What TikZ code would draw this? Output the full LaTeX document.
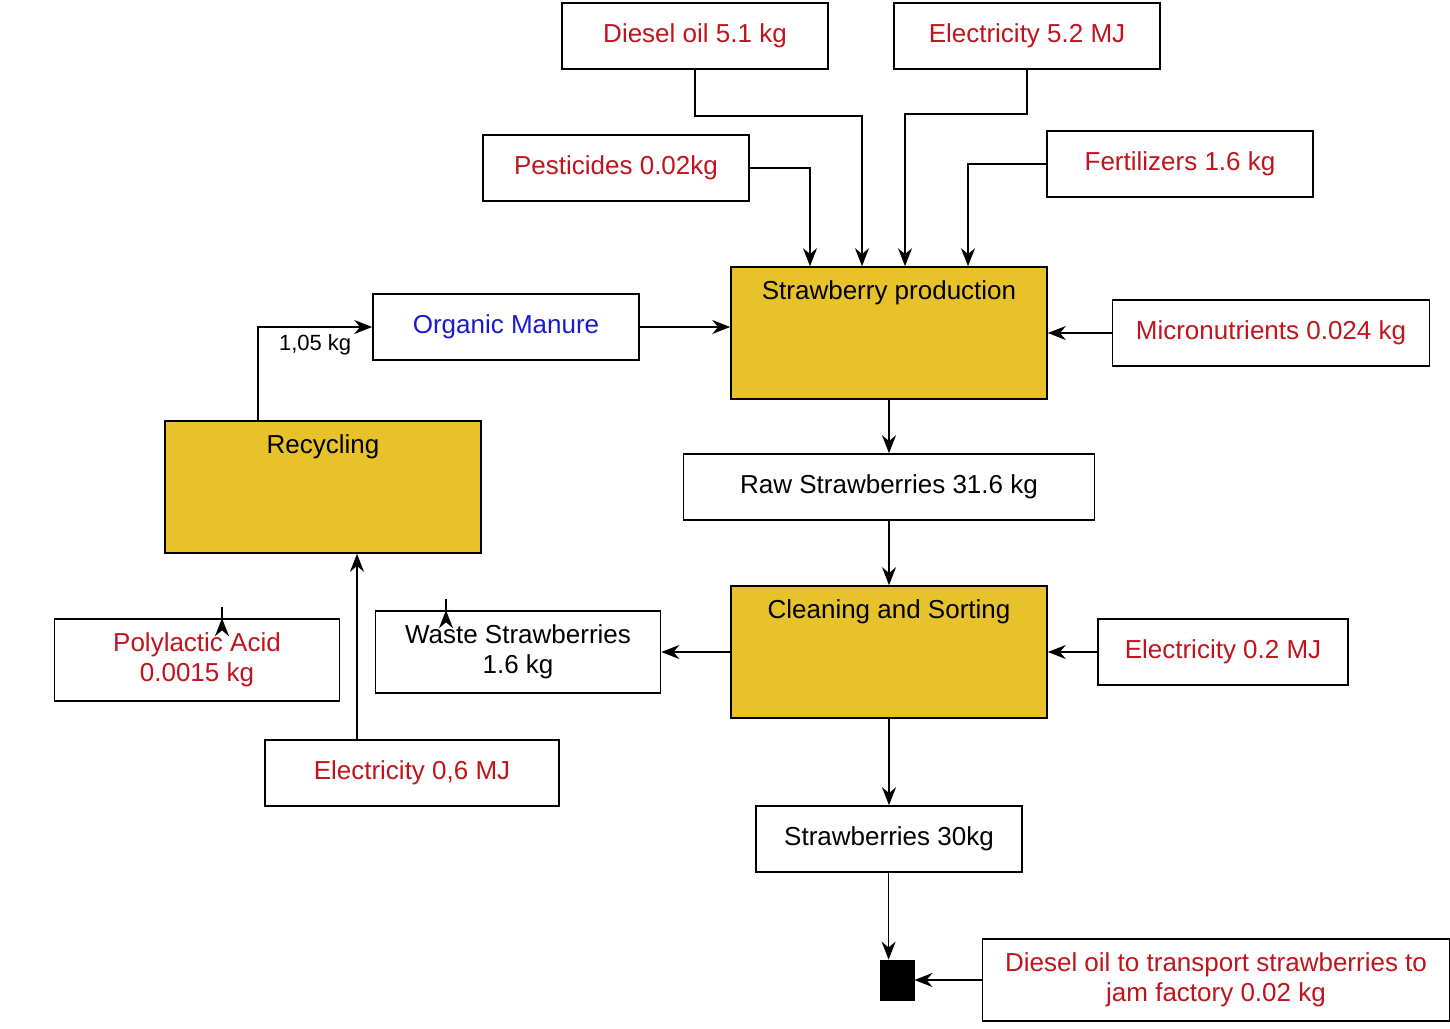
\documentclass[tikz,border=0pt]{standalone}
\usepackage{fontspec}
\setmainfont{Liberation Sans}
\usetikzlibrary{arrows.meta, positioning, calc}
\definecolor{inred}{HTML}{C0141C}
\definecolor{inblue}{HTML}{1A1ACC}
\definecolor{procyel}{HTML}{E8C22A}

\begin{document}
\begin{tikzpicture}[x=0.5pt,y=-0.5pt,
    box/.style={draw,thick,minimum width=#1*0.5pt,minimum height=33pt,inner sep=2pt,font=\fontsize{13}{15}\selectfont,align=center},
    box/.default=266,
    input/.style={box=#1,text=inred},
    input/.default=266,
    proc/.style={draw,thick,fill=procyel,minimum width=158pt,minimum height=66pt},
    ptext/.style={font=\fontsize{13}{15}\selectfont,anchor=north,inner sep=0pt,yshift=-7pt},
    flow/.style={thick,-{Stealth[length=9pt,width=7pt]}}]
  \useasboundingbox (0,0) rectangle (1450,1028);

  % Inputs to strawberry production
  \node[input] (diesel) at (695,36) {Diesel oil 5.1 kg};
  \node[input] (elec) at (1027,36) {Electricity 5.2 MJ};
  \node[input] (pest) at (616,168) {Pesticides 0.02kg};
  \node[input] (fert) at (1180,164) {Fertilizers 1.6 kg};
  \node[input=317] (micro) at (1271,333) {Micronutrients 0.024 kg};

  % Processes
  \node[proc] (prod) at (889,333) {};
  \node[ptext] at (prod.north) {Strawberry production};
  \node[proc] (recyc) at (323,487) {};
  \node[ptext] at (recyc.north) {Recycling};
  \node[proc] (clean) at (889,652) {};
  \node[ptext] at (clean.north) {Cleaning and Sorting};

  % Flows
  \node[box,text=inblue] (manure) at (506,327) {Organic Manure};
  \node[box=411] (raw) at (889,487) {Raw Strawberries 31.6 kg};
  \node[input=250] (elecc) at (1223,652) {Electricity 0.2 MJ};
  \node[box=285,minimum height=41pt] (waste) at (518,652) {Waste Strawberries\\1.6 kg};
  \node[input=285,minimum height=41pt] (pla) at (197,660) {Polylactic Acid\\0.0015 kg};
  \node[input=294] (elecr) at (412,773) {Electricity 0,6 MJ};
  \node[box] (berries) at (889,839) {Strawberries 30kg};
  \node[draw,fill=black,minimum width=17pt,minimum height=20pt,inner sep=0pt] (jam) at (897,980) {};
  \node[input=467,minimum height=41pt] (trans) at (1216,980) {Diesel oil to transport strawberries to\\jam factory 0.02 kg};

  % Arrows
  \draw[flow] (diesel.south) -- ++(0,46) -| ($(prod.north)+(-27,0)$);
  \draw[flow] (elec.south) -- ++(0,44) -| ($(prod.north)+(16,0)$);
  \draw[flow] (pest.east) -| ($(prod.north)+(-79,0)$);
  \draw[flow] (fert.west) -| ($(prod.north)+(79,0)$);
  \draw[flow] (micro.west) -- (prod.east);
  \draw[flow] (manure.east) -- (manure.east -| prod.west);
  \draw[flow] ($(recyc.north)+(-65,0)$) |- node[pos=0.75,below,font=\fontsize{11}{13}\selectfont] {1,05 kg} (manure.west);
  \draw[flow] (prod.south) -- (raw.north);
  \draw[flow] (raw.south) -- (clean.north);
  \draw[flow] (elecc.west) -- (clean.east);
  \draw[flow] (clean.west) -- (waste.east);
  \draw[flow] (clean.south) -- (berries.north);
  \draw[flow] (berries.south -| jam.north west) ++(9,0) -- ($(jam.north west)+(9,0)$);
  \draw[flow] (trans.west) -- (jam.east);
  \draw[flow] ($(pla.north)+(25,0)$) -- ($(pla.north)+(25,0)$ |- recyc.south);
  \draw[flow] (elecr.north -| 357,0) -- (recyc.south -| 357,0);
  \draw[flow] ($(waste.north)+(-72,0)$) -- ($(waste.north)+(-72,0)$ |- recyc.south);
\end{tikzpicture}
\end{document}
